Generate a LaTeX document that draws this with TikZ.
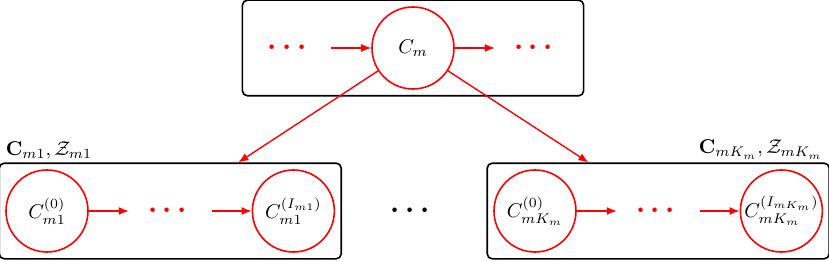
\documentclass[tikz,border=0pt]{standalone}
\usepackage{amsmath}
\usetikzlibrary{arrows.meta, positioning, calc, fit}

\begin{document}
\begin{tikzpicture}[
    x=0.5pt, y=-0.5pt,
    node distance=20pt,
    state/.style={circle, draw=red, line width=0.8pt, minimum size=41pt, inner sep=0pt},
    dots/.style={text=red, minimum width=41pt, inner sep=0pt, font=\Large\boldmath},
    frame/.style={rectangle, draw, line width=0.8pt, rounded corners=2.5pt, inner sep=3pt},
    arrow/.style={-{Latex[length=5pt, width=4pt]}, line width=0.7pt, draw=red}
]
\useasboundingbox (0,0) rectangle (829,262);
% top chain
\node[state] (cm) at (413,48) {$C_m$};
\node[dots, left=of cm] (ldots) {$\cdots$};
\node[dots, right=of cm] (rdots) {$\cdots$};
\node[frame, fit=(ldots)(cm)(rdots)] (top) {};
\draw[arrow] (ldots) -- (cm);
\draw[arrow] (cm) -- (rdots);
% first sub-chain
\node[state] (c1a) at (47,211) {$C^{(0)}_{m1}$};
\node[dots, right=of c1a] (d1) {$\cdots$};
\node[state, right=of d1] (c1b) {$C^{(I_{m1})}_{m1}$};
\node[frame, fit=(c1a)(c1b)] (box1) {};
\draw[arrow] (c1a) -- (d1);
\draw[arrow] (d1) -- (c1b);
\node[anchor=south west, inner sep=1.5pt, xshift=2pt] (lab1) at (box1.north west) {$\mathbf{C}_{m1}, \mathcal{Z}_{m1}$};
% gap between sub-chains
\node[dots, text=black] (mdots) at (413,211) {$\cdots$};
% last sub-chain
\node[state] (c2a) at (535,211) {$C^{(0)}_{mK_m}$};
\node[dots, right=of c2a] (d2) {$\cdots$};
\node[state, right=of d2] (c2b) {$C^{(I_{mK_m})}_{mK_m}$};
\node[frame, fit=(c2a)(c2b)] (box2) {};
\draw[arrow] (c2a) -- (d2);
\draw[arrow] (d2) -- (c2b);
\node[anchor=south east, inner sep=1.5pt, xshift=-2pt] (lab2) at (box2.north east) {$\mathbf{C}_{mK_m}, \mathcal{Z}_{mK_m}$};
% links from the top chain
\coordinate (t1) at ($(box1.north west)+(240,0)$);
\coordinate (t2) at ($(box2.north west)+(102,0)$);
\draw[arrow] (cm) -- (t1);
\draw[arrow] (cm) -- (t2);
\end{tikzpicture}
\end{document}
